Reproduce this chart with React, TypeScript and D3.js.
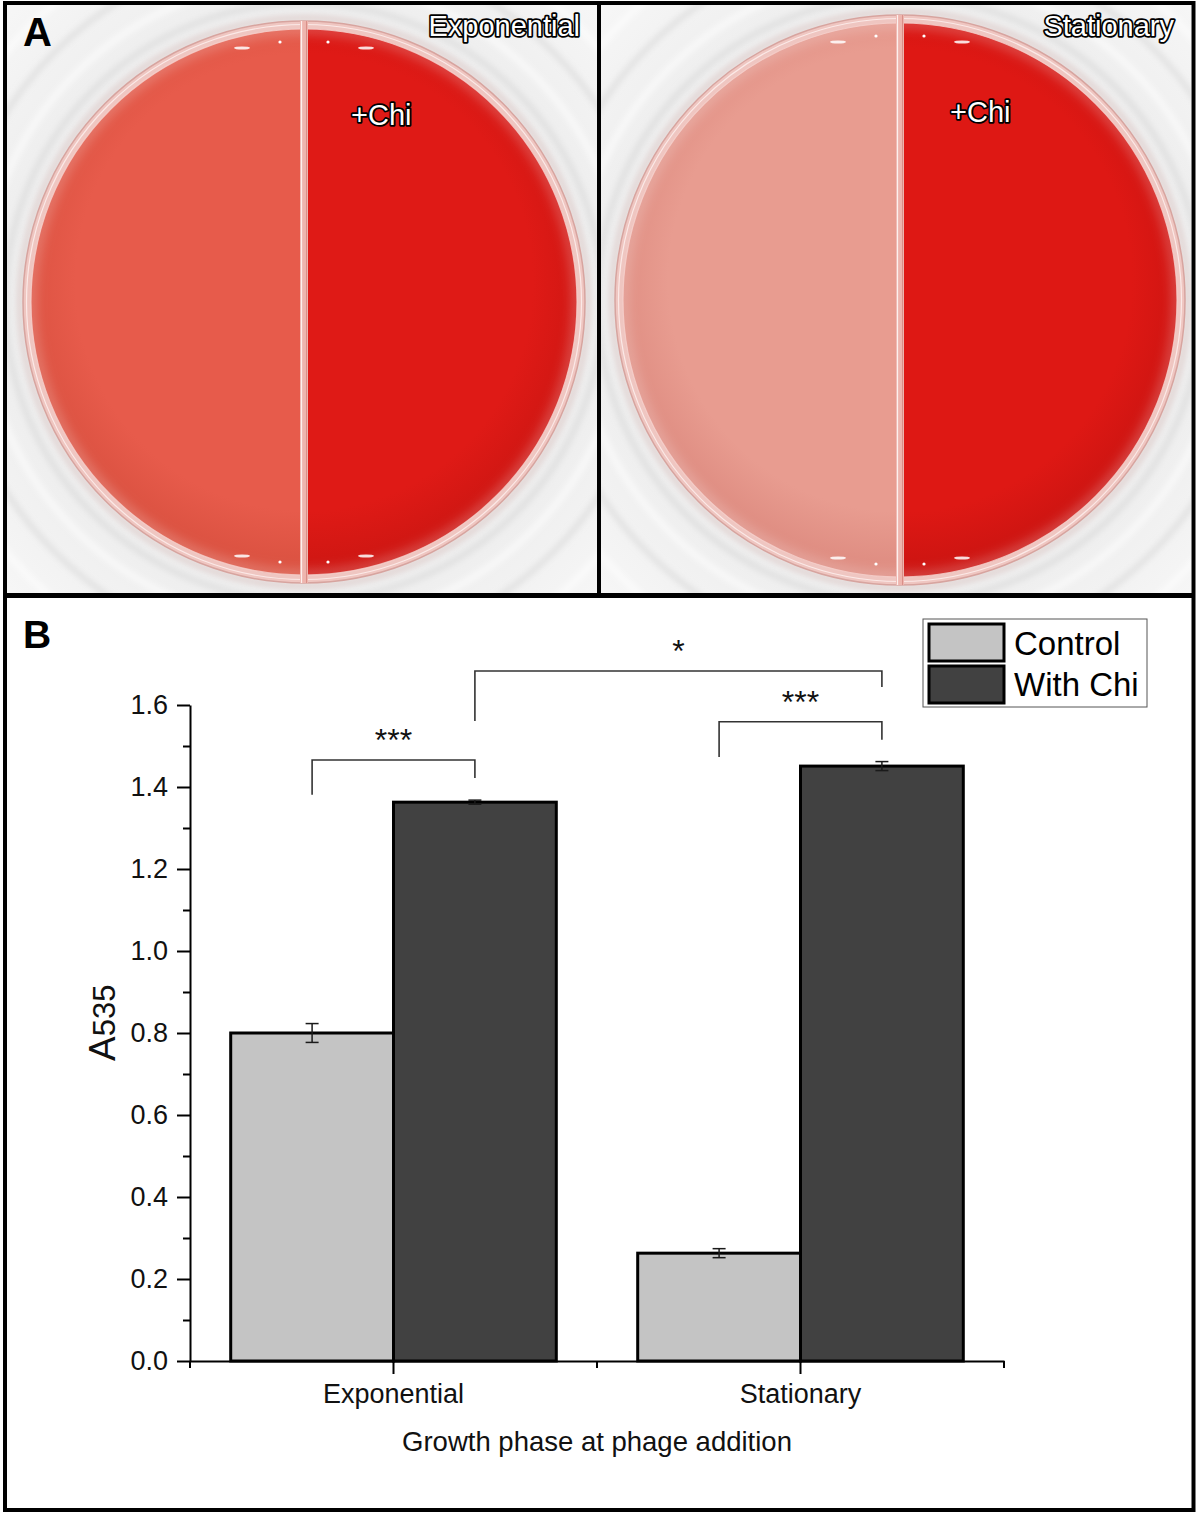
import { useRef, useEffect } from 'react';
import * as d3 from 'd3';

// ---- chart data ----
const groups = ['Exponential', 'Stationary'];
const seriesNames = ['Control', 'With Chi'];
const controlMean = [0.8, 0.263];
const controlErr = [0.023, 0.011];
const chiMean = [1.363, 1.451];
const chiErr = [0.005, 0.011];
const majorTicks = [0, 0.2, 0.4, 0.6, 0.8, 1.0, 1.2, 1.4, 1.6];
const minorTicks = [0.1, 0.3, 0.5, 0.7, 0.9, 1.1, 1.3, 1.5];

// significance brackets: ends are [group, series]; heights in A535 units
const brackets = [
  { from: [0, 0], to: [0, 1], y: 1.466, fromEnd: 1.381, toEnd: 1.422, label: '***' },
  { from: [0, 1], to: [1, 1], y: 1.683, fromEnd: 1.561, toEnd: 1.644, label: '*' },
  { from: [1, 0], to: [1, 1], y: 1.559, fromEnd: 1.473, toEnd: 1.515, label: '***' },
];

const seriesFill = ['#c4c4c4', '#414141'];
const font = 'Arial, "Liberation Sans", Helvetica, sans-serif';

const W = 1200;
const H = 1516;
const plot = { left: 190, right: 1004, top: 705, bottom: 1361 };

// ---- photo panel (plates) ----
interface PlateProps {
  id: string;
  x: number;
  w: number;
  cx: number;
  cy: number;
  r: number;
  title: string;
  leftColors: [string, string];
  rightColors: [string, string];
  chiX: number;
  chiY: number;
}

const plates: PlateProps[] = [
  {
    id: 'exp', x: 7, w: 590, cx: 304, cy: 302, r: 281, title: 'Exponential',
    leftColors: ['#e75b4b', '#d9503f'], rightColors: ['#df1a16', '#cc1612'], chiX: 351, chiY: 125,
  },
  {
    id: 'sta', x: 601, w: 590, cx: 900, cy: 300, r: 285, title: 'Stationary',
    leftColors: ['#e89c90', '#dd8a7f'], rightColors: ['#de1814', '#ca1411'], chiX: 950, chiY: 122,
  },
];

const outline = {
  fill: '#fff',
  stroke: '#000',
  strokeWidth: 3.5,
  paintOrder: 'stroke',
  strokeLinejoin: 'round' as const,
  fontFamily: font,
  fontSize: 29,
};

function Plate({ id, x, w, cx, cy, r, title, leftColors, rightColors, chiX, chiY }: PlateProps) {
  const ar = r - 8;
  const ripples = [18, 42, 72, 108, 150, 200];
  return (
    <g clipPath={`url(#${id}-panel)`}>
      <defs>
        <clipPath id={`${id}-panel`}>
          <rect x={x} y={5} width={w} height={588} />
        </clipPath>
        <clipPath id={`${id}-agar`}>
          <circle cx={cx} cy={cy} r={ar} />
        </clipPath>
        <clipPath id={`${id}-dish`}>
          <circle cx={cx} cy={cy} r={r} />
        </clipPath>
        <radialGradient id={`${id}-gl`} gradientUnits="userSpaceOnUse" cx={cx} cy={cy - 20} r={ar + 20}>
          <stop offset="0" stopColor={leftColors[0]} />
          <stop offset="0.78" stopColor={leftColors[0]} />
          <stop offset="1" stopColor={leftColors[1]} />
        </radialGradient>
        <radialGradient id={`${id}-gr`} gradientUnits="userSpaceOnUse" cx={cx} cy={cy - 20} r={ar + 20}>
          <stop offset="0" stopColor={rightColors[0]} />
          <stop offset="0.78" stopColor={rightColors[0]} />
          <stop offset="1" stopColor={rightColors[1]} />
        </radialGradient>
        <radialGradient id={`${id}-bg`} gradientUnits="userSpaceOnUse" cx={cx} cy={cy} r={440}>
          <stop offset="0.6" stopColor="#ececec" />
          <stop offset="1" stopColor="#f8f8f8" />
        </radialGradient>
        <filter id={`${id}-blur`} x="-20%" y="-20%" width="140%" height="140%">
          <feGaussianBlur stdDeviation="3" />
        </filter>
        <filter id={`${id}-soft`} x="-20%" y="-20%" width="140%" height="140%">
          <feGaussianBlur stdDeviation="6" />
        </filter>
      </defs>
      <rect x={x} y={5} width={w} height={588} fill={`url(#${id}-bg)`} />
      <g filter={`url(#${id}-blur)`}>
        {ripples.map((d, i) => (
          <circle key={d} cx={cx} cy={cy} r={r + d} fill="none"
            stroke={i % 2 ? '#ffffff' : '#d2d2d2'} strokeWidth={i % 2 ? 5 : 4} opacity={0.75} />
        ))}
      </g>
      {/* shadow round the dish */}
      <circle cx={cx} cy={cy} r={r + 3} fill="none" stroke="#dcc8c6" strokeWidth={4} filter={`url(#${id}-blur)`} />
      {/* plastic rim */}
      <circle cx={cx} cy={cy} r={r} fill="#efc6c1" stroke="#d7a49f" strokeWidth={1.5} />
      <circle cx={cx} cy={cy} r={r - 3.5} fill="none" stroke="#fbe9e7" strokeWidth={1.2} />
      {/* agar halves */}
      <g clipPath={`url(#${id}-agar)`}>
        <rect x={cx - ar} y={cy - ar} width={ar} height={ar * 2} fill={`url(#${id}-gl)`} />
        <rect x={cx} y={cy - ar} width={ar} height={ar * 2} fill={`url(#${id}-gr)`} />
        <circle cx={cx} cy={cy} r={ar} fill="none" stroke="#ffffff" strokeOpacity={0.3} strokeWidth={8}
          filter={`url(#${id}-soft)`} />
      </g>
      <circle cx={cx} cy={cy} r={ar} fill="none" stroke="#f6d2ce" strokeWidth={1.2} opacity={0.8} />
      {/* divider wall */}
      <g clipPath={`url(#${id}-dish)`}>
        <rect x={cx - 4} y={cy - r} width={8} height={r * 2} fill="#eeb5ae" />
        <line x1={cx - 2.5} x2={cx - 2.5} y1={cy - r} y2={cy + r} stroke="#fdf0ee" strokeWidth={1.2} />
        <line x1={cx + 2.5} x2={cx + 2.5} y1={cy - r} y2={cy + r} stroke="#d98f88" strokeWidth={1} />
      </g>
      {/* light glints */}
      {[-1, 1].map((s) => (
        <g key={s} fill="#ffffff">
          <ellipse cx={cx + s * 62} cy={cy - r + 27} rx={8} ry={1.6} opacity={0.85} />
          <ellipse cx={cx + s * 62} cy={cy + r - 27} rx={8} ry={1.6} opacity={0.85} />
          <circle cx={cx + s * 24} cy={cy - r + 21} r={1.6} />
          <circle cx={cx + s * 24} cy={cy + r - 21} r={1.6} />
        </g>
      ))}
      <text x={x + w - 17} y={36} textAnchor="end" style={outline}>{title}</text>
      <text x={chiX} y={chiY} style={outline}>+Chi</text>
    </g>
  );
}

export default function App() {
  const chartRef = useRef<SVGGElement>(null);

  useEffect(() => {
    if (!chartRef.current) return;
    const g = d3.select(chartRef.current);
    g.selectAll('*').remove();

    const x0 = d3.scaleBand<string>().domain(groups).range([plot.left, plot.right]);
    const bw = x0.bandwidth();
    const x1 = d3.scaleBand<string>().domain(seriesNames).range([bw * 0.1, bw * 0.9]);
    const y = d3.scaleLinear().domain([0, 1.6]).range([plot.bottom, plot.top]);

    const means = [controlMean, chiMean];
    const errs = [controlErr, chiErr];
    const barX = (gi: number, si: number) => (x0(groups[gi]) ?? 0) + (x1(seriesNames[si]) ?? 0);
    const barMid = (gi: number, si: number) => barX(gi, si) + x1.bandwidth() / 2;

    const cells = groups.flatMap((_, gi) => seriesNames.map((_, si) => ({ gi, si })));

    // bars
    g.append('g')
      .selectAll('rect')
      .data(cells)
      .join('rect')
      .attr('x', (d) => barX(d.gi, d.si))
      .attr('y', (d) => y(means[d.si][d.gi]))
      .attr('width', x1.bandwidth())
      .attr('height', (d) => y(0) - y(means[d.si][d.gi]))
      .attr('fill', (d) => seriesFill[d.si])
      .attr('stroke', '#000')
      .attr('stroke-width', 3);

    // error bars
    const eg = g.append('g').attr('stroke', '#1a1a1a').attr('stroke-width', 1.5);
    cells.forEach(({ gi, si }) => {
      const cx = barMid(gi, si);
      const m = means[si][gi];
      const e = errs[si][gi];
      eg.append('line').attr('x1', cx).attr('x2', cx).attr('y1', y(m - e)).attr('y2', y(m + e));
      [m - e, m + e].forEach((v) => {
        eg.append('line').attr('x1', cx - 6.5).attr('x2', cx + 6.5).attr('y1', y(v)).attr('y2', y(v));
      });
    });

    // y axis, major + minor ticks
    const yAxis = g
      .append('g')
      .attr('transform', `translate(${plot.left},0)`)
      .call(
        d3.axisLeft(y).tickValues(majorTicks).tickSize(13).tickSizeOuter(0).tickPadding(9)
          .tickFormat(d3.format('.1f')),
      );
    g.append('g')
      .attr('transform', `translate(${plot.left},0)`)
      .call(d3.axisLeft(y).tickValues(minorTicks).tickSize(7).tickFormat(() => ''))
      .call((s) => s.select('.domain').remove());

    // x axis, ticks at group centres, short ticks at group boundaries
    const xAxis = g
      .append('g')
      .attr('transform', `translate(0,${plot.bottom})`)
      .call(d3.axisBottom(x0).tickSize(13).tickSizeOuter(0).tickPadding(10));
    const bounds = [...groups.map((c) => x0(c) ?? 0), plot.right];
    g.append('g')
      .attr('class', 'minor-x')
      .selectAll('line')
      .data(bounds)
      .join('line')
      .attr('x1', (d) => d)
      .attr('x2', (d) => d)
      .attr('y1', plot.bottom)
      .attr('y2', plot.bottom + 7);

    [yAxis, xAxis].forEach((a) => {
      a.attr('font-family', font).attr('font-size', 27);
      a.selectAll('text').attr('fill', '#111');
    });
    g.selectAll('.tick line, .domain, .minor-x line').attr('stroke', '#000').attr('stroke-width', 2);

    // axis titles
    g.append('text')
      .attr('x', (plot.left + plot.right) / 2)
      .attr('y', 1451)
      .attr('text-anchor', 'middle')
      .attr('font-family', font)
      .attr('font-size', 27.5)
      .attr('fill', '#111')
      .text('Growth phase at phage addition');

    const yl = g
      .append('text')
      .attr('transform', `translate(115,${(y(0.7) + y(0.95)) / 2}) rotate(-90)`)
      .attr('text-anchor', 'middle')
      .attr('font-family', font)
      .attr('fill', '#111');
    yl.append('tspan').attr('font-size', 37).text('A');
    yl.append('tspan').attr('font-size', 31).text('535');

    // significance brackets
    const bg = g.append('g');
    brackets.forEach((b) => {
      const xa = barMid(b.from[0], b.from[1]);
      const xb = barMid(b.to[0], b.to[1]);
      bg.append('path')
        .attr('d', `M${xa},${y(b.fromEnd)}V${y(b.y)}H${xb}V${y(b.toEnd)}`)
        .attr('fill', 'none')
        .attr('stroke', '#333')
        .attr('stroke-width', 1.6);
      bg.append('text')
        .attr('x', (xa + xb) / 2)
        .attr('y', y(b.y) - 9)
        .attr('text-anchor', 'middle')
        .attr('font-family', font)
        .attr('font-size', 32)
        .attr('fill', '#111')
        .text(b.label);
    });

    // legend
    const lg = g.append('g').attr('transform', 'translate(923,619)');
    lg.append('rect').attr('width', 224).attr('height', 88).attr('fill', '#fff').attr('stroke', '#555').attr('stroke-width', 1);
    seriesNames.forEach((name, i) => {
      lg.append('rect')
        .attr('x', 6)
        .attr('y', 5 + i * 42)
        .attr('width', 75)
        .attr('height', 37)
        .attr('fill', seriesFill[i])
        .attr('stroke', '#000')
        .attr('stroke-width', 3);
      lg.append('text')
        .attr('x', 91)
        .attr('y', 36 + i * 41)
        .attr('font-family', font)
        .attr('font-size', 33)
        .attr('fill', '#000')
        .text(name);
    });
  }, []);

  return (
    <svg
      width={W}
      height={H}
      viewBox={`0 0 ${W} ${H}`}
      style={{ position: 'absolute', left: 0, top: 0, background: '#fff' }}
    >
      <rect width={W} height={H} fill="#fff" />
      {plates.map((p) => (
        <Plate key={p.id} {...p} />
      ))}
      <g ref={chartRef} />
      {/* frame */}
      <rect x={5} y={3} width={1188.5} height={1507} fill="none" stroke="#000" strokeWidth={4} />
      <line x1={5} x2={1193} y1={595.5} y2={595.5} stroke="#000" strokeWidth={5} />
      <line x1={599} x2={599} y1={3} y2={595} stroke="#000" strokeWidth={4} />
      <text x={23} y={46} fontFamily={font} fontWeight="bold" fontSize={40} fill="#000">A</text>
      <text x={23} y={648} fontFamily={font} fontWeight="bold" fontSize={39} fill="#000">B</text>
    </svg>
  );
}
